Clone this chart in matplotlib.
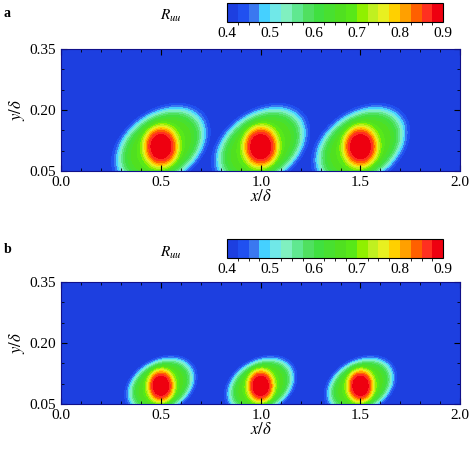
import numpy as np
import matplotlib.pyplot as plt
import matplotlib as mpl
from matplotlib.colors import ListedColormap, BoundaryNorm

plt.rcParams['font.family'] = ['Liberation Serif', 'DejaVu Serif']
plt.rcParams['mathtext.fontset'] = 'stix'

# blob parameters per panel: centres (x), core y, outer/inner widths, shear
centers = [0.5, 1.0, 1.5]
panel_labels = ['a', 'b']
core_y = [0.11, 0.095]
outer_wx = [0.2, 0.15]
outer_wy = [0.092, 0.065]
inner_wx = [0.085, 0.065]
inner_wy = [0.05, 0.04]
shear = [0.8, 0.7]
x_ticks = [0.0, 0.5, 1.0, 1.5, 2.0]
y_ticks = [0.05, 0.20, 0.35]
cbar_ticks = [0.4, 0.5, 0.6, 0.7, 0.8, 0.9]

levels = np.linspace(0.4, 0.9, 21)
colors = ['#1d3fe0', '#2050f0', '#3a78f0', '#45d0ff', '#70e8e8', '#80f0c0',
          '#60e890', '#50e060', '#40e040', '#48e030', '#50e020', '#58e818',
          '#90f000', '#c0f020', '#e8f020', '#ffd000', '#ffa000', '#ff6000',
          '#ff3020', '#ee0010']
cmap = ListedColormap(colors)
cmap.set_under(colors[0])
cmap.set_over(colors[-1])
norm = BoundaryNorm(levels, cmap.N)

x = np.linspace(0, 2, 600)
y = np.linspace(0.05, 0.35, 300)
X, Y = np.meshgrid(x, y)

fig = plt.figure(figsize=(4.74, 4.5), dpi=100)
ax_boxes = [[0.129, 0.62, 0.842, 0.271], [0.129, 0.102, 0.842, 0.271]]
cb_boxes = [[0.479, 0.951, 0.456, 0.042], [0.479, 0.427, 0.456, 0.042]]
lab_y = [0.985, 0.46]

for i in range(2):
    Z = np.full_like(X, 0.4)
    for c in centers:
        sx = (X - c) - shear[i] * (Y - core_y[i])
        ro = np.sqrt((sx / outer_wx[i])**2 + ((Y - core_y[i]) / outer_wy[i])**2)
        ri = np.sqrt(((X - c) / inner_wx[i])**2 + ((Y - core_y[i]) / inner_wy[i])**2)
        Z = np.maximum(Z, 0.4 + 0.28 * np.exp(-ro**6) + 0.22 * np.exp(-ri**4))
    ax = fig.add_axes(ax_boxes[i])
    ax.contourf(X, Y, Z, levels=levels, cmap=cmap, norm=norm, extend='both')
    ax.set_xlim(0, 2)
    ax.set_ylim(0.05, 0.35)
    ax.set_xticks(x_ticks)
    ax.set_xticklabels(['%.1f' % v for v in x_ticks])
    ax.set_yticks(y_ticks)
    ax.set_yticklabels(['%.2f' % v for v in y_ticks])
    ax.set_xticks(np.arange(0, 2.01, 0.1), minor=True)
    ax.set_yticks(np.arange(0.05, 0.351, 0.05), minor=True)
    ax.tick_params(direction='in', labelsize=11, length=4, top=True, right=True)
    ax.tick_params(which='minor', direction='in', length=2, top=True, right=True)
    for s in ax.spines.values():
        s.set_color('#10108a')
    ax.set_xlabel(r'$x/\delta$', fontsize=12, labelpad=0)
    ax.set_ylabel(r'$y/\delta$', fontsize=12, labelpad=2)

    cax = fig.add_axes(cb_boxes[i])
    sm = mpl.cm.ScalarMappable(norm=norm, cmap=cmap)
    cb = fig.colorbar(sm, cax=cax, orientation='horizontal', ticks=cbar_ticks)
    cb.ax.tick_params(labelsize=11, length=0)
    cb.ax.set_xticklabels(['%.1f' % v for v in cbar_ticks])
    cb.outline.set_linewidth(0.8)
    fig.text(0.36, lab_y[i] - 0.03, r'$R_{uu}$', fontsize=11, ha='center')
    fig.text(0.008, lab_y[i], panel_labels[i], fontsize=10, fontweight='bold', va='top')

fig.savefig('out.png')
